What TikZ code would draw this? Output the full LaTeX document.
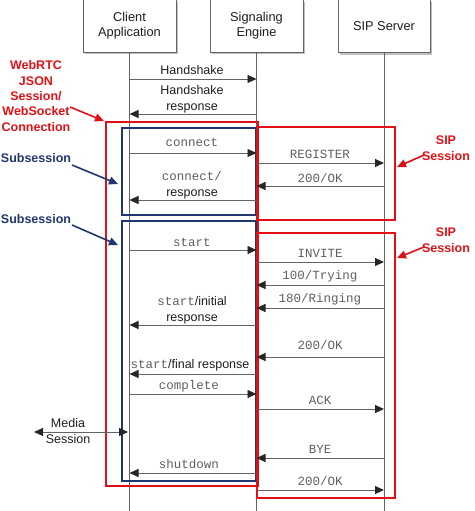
\documentclass[tikz,border=0pt]{standalone}
\usepackage{fontspec}
\setmainfont{Liberation Sans}
\setmonofont{Liberation Mono}
\usetikzlibrary{arrows.meta}
\definecolor{rd}{RGB}{226,16,22}
\definecolor{nv}{RGB}{30,55,110}
\definecolor{ln}{RGB}{100,100,100}
\definecolor{tx}{RGB}{30,30,30}
\definecolor{mt}{RGB}{95,95,95}
\begin{document}
\begin{tikzpicture}[x=1pt,y=-1pt,
 actor/.style={draw=ln, line width=0.9pt, fill=white, minimum width=93pt, minimum height=53pt, align=center, font=\fontsize{12.8}{15}\selectfont, text=tx, inner sep=0pt},
 life/.style={draw=ln, line width=0.9pt},
 tip/.tip={Triangle[length=9pt,width=8pt,color=black!85]},
 msg/.style={draw=ln, line width=0.9pt, -tip},
 lbl/.style={font=\fontsize{12.5}{16}\selectfont, text=tx, inner sep=0pt, align=center},
 mlbl/.style={font=\ttfamily\fontsize{12.5}{15}\selectfont, text=mt, inner sep=0pt},
 redlbl/.style={font=\bfseries\fontsize{12.5}{15.4}\selectfont, text=rd, align=center, inner sep=0pt},
 bluelbl/.style={font=\bfseries\fontsize{12.5}{15}\selectfont, text=nv, inner sep=0pt},
 redbox/.style={draw=rd, line width=2.6pt},
 bluebox/.style={draw=nv, line width=1.5pt},
 redptr/.style={draw=rd, line width=1.6pt, -{Triangle[length=9pt,width=8pt]}},
 blueptr/.style={draw=nv, line width=1.6pt, -{Triangle[length=9pt,width=8pt]}},
]
\useasboundingbox (0,0) rectangle (474,511);

% actors (with light shadow)
\fill[black!25] (85,2) rectangle (178,54);
\fill[black!25] (212,2) rectangle (305,54);
\fill[black!25] (340,2) rectangle (432,55);
\node[actor] (ca) at (129.5,25.5) {Client\\Application};
\node[actor] (se) at (256.5,25.5) {Signaling\\Engine};
\node[actor, minimum width=92pt] (ss) at (384,26) {SIP Server};

% lifelines
\coordinate (caend) at (ca |- 0,511);
\coordinate (seend) at (se |- 0,511);
\coordinate (ssend) at (ss |- 0,511);
\draw[life] (ca.south) -- (caend);
\draw[life] (se.south) -- (seend);
\draw[life] (ss.south) -- (ssend);

% handshake
\draw[msg] (ca |- 0,79) -- (se |- 0,79);
\node[lbl] (hs) at (192,70) {Handshake};
\draw[msg] (se |- 0,114) -- (ca |- 0,114);
\node[lbl] (hsr) at (192,99) {Handshake\\response};

% boxes
\draw[redbox] (106,122) rectangle (258,486);
\draw[bluebox] (122,128) rectangle (256,215);
\draw[bluebox] (122,221) rectangle (256,481);
\draw[redbox] (257,127) rectangle (395,220);
\draw[redbox] (257,233) rectangle (395,498);

% subsession 1
\draw[msg] (ca |- 0,153) -- (se |- 0,153);
\node[mlbl] (cn) at (192,142) {connect};
\draw[msg] (se |- 0,200) -- (ca |- 0,200);
\node[lbl] (cnr) at (192,185.5) {{\ttfamily\color{mt}connect/}\\response};
\draw[msg] (se |- 0,163) -- (ss |- 0,163);
\node[mlbl] (reg) at (320,154) {REGISTER};
\draw[msg] (ss |- 0,186) -- (se |- 0,186);
\node[mlbl] (ok1) at (320,178) {200/OK};

% subsession 2
\draw[msg] (ca |- 0,250) -- (se |- 0,250);
\node[mlbl] (st) at (192,242) {start};
\draw[msg] (se |- 0,325) -- (ca |- 0,325);
\node[lbl] (sti) at (192,310.5) {{\ttfamily\color{mt}start}/initial\\response};
\draw[msg] (se |- 0,374) -- (ca |- 0,374);
\node[lbl] (stf) at (190,365) {{\ttfamily\color{mt}start}/final response};
\draw[msg] (ca |- 0,394) -- (se |- 0,394);
\node[mlbl] (cp) at (189,386) {complete};
\draw[msg] (se |- 0,473) -- (ca |- 0,473);
\node[mlbl] (sd) at (189,464) {shutdown};

\draw[msg] (se |- 0,262) -- (ss |- 0,262);
\node[mlbl] (inv) at (320,253) {INVITE};
\draw[msg] (ss |- 0,285) -- (se |- 0,285);
\node[mlbl] (tr) at (320,276) {100/Trying};
\draw[msg] (ss |- 0,308) -- (se |- 0,308);
\node[mlbl] (rn) at (320,299) {180/Ringing};
\draw[msg] (ss |- 0,357) -- (se |- 0,357);
\node[mlbl] (ok2) at (320,345) {200/OK};
\draw[msg] (se |- 0,409) -- (ss |- 0,409);
\node[mlbl] (ack) at (320,400) {ACK};
\draw[msg] (ss |- 0,458) -- (se |- 0,458);
\node[mlbl] (bye) at (320,449) {BYE};
\draw[msg] (se |- 0,490) -- (ss |- 0,490);
\node[mlbl] (ok3) at (320,481) {200/OK};

% media session
\coordinate (mleft) at (34,432);
\coordinate (mright) at (128,432);
\draw[msg, tip-tip] (mleft) -- (mright);
\node[lbl] (ms) at (68,431) {Media\\Session};

% side labels
\node[redlbl] (web) at (36,96) {WebRTC\\JSON\\Session/\\WebSocket\\Connection};
\draw[redptr] (70,107) -- (104,121);
\node[bluelbl] (sub1) at (36,158) {Subsession};
\draw[blueptr] (72,165) -- (118,184);
\node[bluelbl] (sub2) at (36,219) {Subsession};
\draw[blueptr] (72,225) -- (118,245);
\node[redlbl] (sip1) at (446,148) {SIP\\Session};
\draw[redptr] (424,155) -- (397,167);
\node[redlbl] (sip2) at (446,240) {SIP\\Session};
\draw[redptr] (424,247) -- (397,258);
\end{tikzpicture}
\end{document}
